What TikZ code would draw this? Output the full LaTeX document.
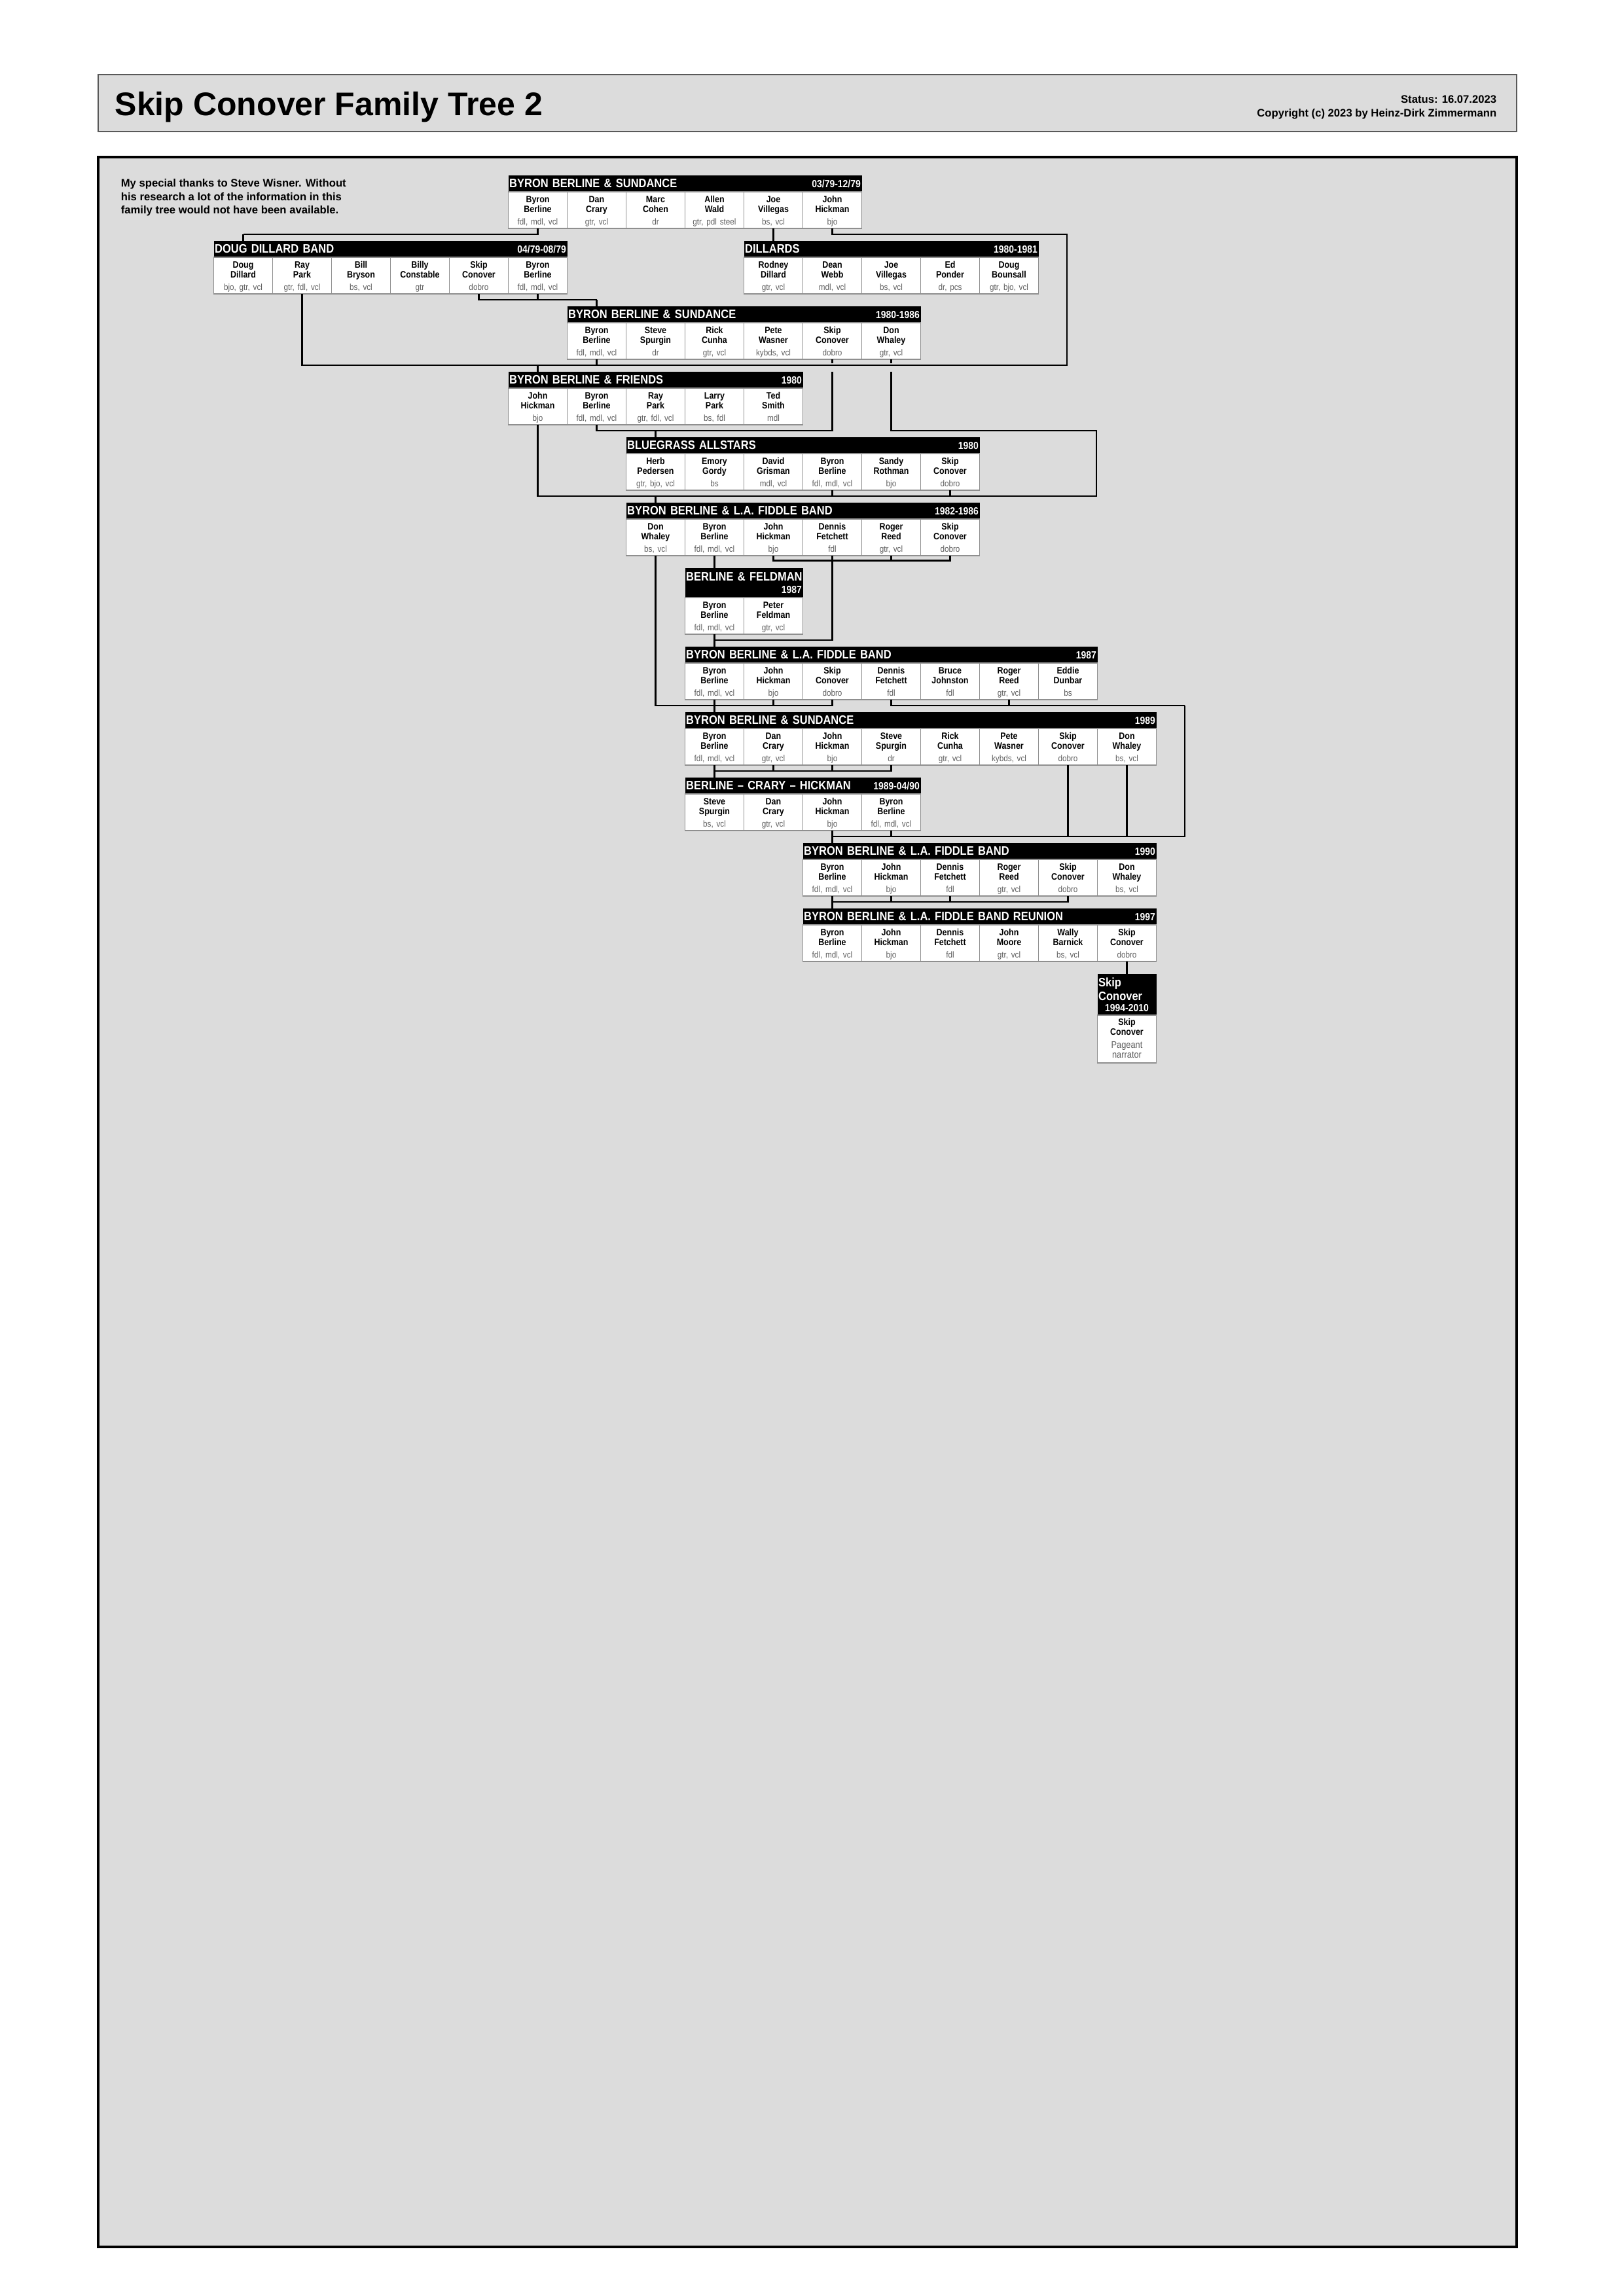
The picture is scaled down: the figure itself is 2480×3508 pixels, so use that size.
\documentclass[tikz,border=0pt]{standalone}
\usepackage{fontspec}
\setmainfont{Liberation Sans}
\newfontfamily\narrowsf[FakeStretch=0.88]{Liberation Sans}
\setlength{\parindent}{0pt}
\definecolor{panel}{HTML}{DCDCDC}
\definecolor{instr}{HTML}{5F5F5F}
\definecolor{cellline}{HTML}{8F8F8F}
\newcommand{\insfont}{\mdseries\color{instr}\fontsize{3.2pt}{4.6pt}\selectfont}
\newcommand{\yearsfont}{\fontsize{3.8pt}{4.6pt}\selectfont}
\newcommand{\cellbody}[3]{#1\\#2\par{\insfont #3\par}}
% #1 header options, #2 name, #3 first column, #4 top, #5 cells, #6 title, #7 years, #8 members
\newcommand{\band}[8][]{%
  \pgfmathsetlengthmacro{\bandw}{#5*21.6pt}%
  \pgfmathsetlengthmacro{\bandtw}{#5*21.6pt-0.8pt}%
  \node[bandhead, minimum width=\bandw, text width=\bandtw, #1] (#2) at ({326.5+90*#3},#4) {#6\hfill{\yearsfont #7}};
  \foreach \fname/\lname/\plays [count=\i from 0] in {#8}
    \node[cell] (#2-\i) at ([xshift=\i*21.6pt]#2.south west) {\cellbody{\fname}{\lname}{\plays}};
}

\begin{document}
\begin{tikzpicture}[x=0.24pt, y=-0.24pt,
    bandhead/.style={fill=black, text=white, anchor=north west, minimum height=6pt, inner xsep=0.4pt, inner ysep=0pt, outer sep=0pt, align=left, font=\narrowsf\bfseries\fontsize{4.5pt}{4.6pt}\selectfont},
    cell/.style={draw=cellline, line width=0.35pt, fill=white, anchor=north west, minimum width=21.6pt, minimum height=13.44pt, text width=21.6pt, text height=3.85pt, text depth=9.59pt, inner sep=0pt, outer sep=0pt, align=center, font=\narrowsf\bfseries\fontsize{3.4pt}{3.6pt}\selectfont},
    link/.style={line width=0.7pt},
    smallbold/.style={inner sep=0pt, font=\bfseries\fontsize{4pt}{4.85pt}\selectfont}]
  \useasboundingbox (0,0) rectangle (2480,3508);

  % frames
  \draw[fill=panel, draw=black!65, line width=0.5pt] (150,114) rectangle (2317,201);
  \draw[fill=panel, line width=0.75pt] (150,240) rectangle (2317,3433);
  \node[anchor=base west, inner sep=0pt, font=\bfseries\fontsize{12pt}{14pt}\selectfont] (title) at (175,177) {Skip Conover Family Tree 2};
  \node[smallbold, anchor=base east] (status) at (2287,158) {Status: 16.07.2023};
  \node[smallbold, anchor=base east] (copyright) at (2287,179) {Copyright (c) 2023 by Heinz-Dirk Zimmermann};
  \node[smallbold, anchor=north west, align=left] (thanks) at (184,273) {My special thanks to Steve Wisner. Without\\his research a lot of the information in this\\family tree would not have been available.};

  % bands
  \band{bbsA}{5}{268}{6}{BYRON BERLINE \& SUNDANCE}{03/79-12/79}{Byron/Berline/{fdl, mdl, vcl}, Dan/Crary/{gtr, vcl}, Marc/Cohen/dr, Allen/Wald/{gtr, pdl steel}, Joe/Villegas/{bs, vcl}, John/Hickman/bjo}
  \band{ddb}{0}{368}{6}{DOUG DILLARD BAND}{04/79-08/79}{Doug/Dillard/{bjo, gtr, vcl}, Ray/Park/{gtr, fdl, vcl}, Bill/Bryson/{bs, vcl}, Billy/Constable/gtr, Skip/Conover/dobro, Byron/Berline/{fdl, mdl, vcl}}
  \band{dil}{9}{368}{5}{DILLARDS}{1980-1981}{Rodney/Dillard/{gtr, vcl}, Dean/Webb/{mdl, vcl}, Joe/Villegas/{bs, vcl}, Ed/Ponder/{dr, pcs}, Doug/Bounsall/{gtr, bjo, vcl}}
  \band{bbsB}{6}{468}{6}{BYRON BERLINE \& SUNDANCE}{1980-1986}{Byron/Berline/{fdl, mdl, vcl}, Steve/Spurgin/dr, Rick/Cunha/{gtr, vcl}, Pete/Wasner/{kybds, vcl}, Skip/Conover/dobro, Don/Whaley/{gtr, vcl}}
  \band{bbf}{5}{568}{5}{BYRON BERLINE \& FRIENDS}{1980}{John/Hickman/bjo, Byron/Berline/{fdl, mdl, vcl}, Ray/Park/{gtr, fdl, vcl}, Larry/Park/{bs, fdl}, Ted/Smith/mdl}
  \band{bga}{7}{668}{6}{BLUEGRASS ALLSTARS}{1980}{Herb/Pedersen/{gtr, bjo, vcl}, Emory/Gordy/bs, David/Grisman/{mdl, vcl}, Byron/Berline/{fdl, mdl, vcl}, Sandy/Rothman/bjo, Skip/Conover/dobro}
  \band{lafA}{7}{768}{6}{BYRON BERLINE \& L.A. FIDDLE BAND}{1982-1986}{Don/Whaley/{bs, vcl}, Byron/Berline/{fdl, mdl, vcl}, John/Hickman/bjo, Dennis/Fetchett/fdl, Roger/Reed/{gtr, vcl}, Skip/Conover/dobro}
  \band[minimum height=10.8pt]{bf}{8}{868}{2}{\mbox{BERLINE \& FELDMAN}\\}{\hspace*{\fill}1987}{Byron/Berline/{fdl, mdl, vcl}, Peter/Feldman/{gtr, vcl}}
  \band{lafB}{8}{988}{7}{BYRON BERLINE \& L.A. FIDDLE BAND}{1987}{Byron/Berline/{fdl, mdl, vcl}, John/Hickman/bjo, Skip/Conover/dobro, Dennis/Fetchett/fdl, Bruce/Johnston/fdl, Roger/Reed/{gtr, vcl}, Eddie/Dunbar/bs}
  \band{bbsC}{8}{1088}{8}{BYRON BERLINE \& SUNDANCE}{1989}{Byron/Berline/{fdl, mdl, vcl}, Dan/Crary/{gtr, vcl}, John/Hickman/bjo, Steve/Spurgin/dr, Rick/Cunha/{gtr, vcl}, Pete/Wasner/{kybds, vcl}, Skip/Conover/dobro, Don/Whaley/{bs, vcl}}
  \band{bch}{8}{1188}{4}{BERLINE \textendash{} CRARY \textendash{} HICKMAN}{1989-04/90}{Steve/Spurgin/{bs, vcl}, Dan/Crary/{gtr, vcl}, John/Hickman/bjo, Byron/Berline/{fdl, mdl, vcl}}
  \band{lafC}{10}{1288}{6}{BYRON BERLINE \& L.A. FIDDLE BAND}{1990}{Byron/Berline/{fdl, mdl, vcl}, John/Hickman/bjo, Dennis/Fetchett/fdl, Roger/Reed/{gtr, vcl}, Skip/Conover/dobro, Don/Whaley/{bs, vcl}}
  \band{reun}{10}{1388}{6}{BYRON BERLINE \& L.A. FIDDLE BAND REUNION}{1997}{Byron/Berline/{fdl, mdl, vcl}, John/Hickman/bjo, Dennis/Fetchett/fdl, John/Moore/{gtr, vcl}, Wally/Barnick/{bs, vcl}, Skip/Conover/dobro}
  \node[bandhead, minimum width=21.6pt, text width=20.8pt, minimum height=15.1pt] (skip) at (1676.5,1488) {Skip\\[0.6pt]Conover\\[-0.6pt]{\yearsfont\hspace*{\fill}1994-2010\hspace*{\fill}}};
  \node[cell, minimum height=17.5pt, text height=3.85pt, text depth=13.65pt] (skip-0) at (skip.south west) {Skip\\Conover\par{\insfont\fontsize{3.5pt}{4.6pt}\selectfont Pageant\\[-0.8pt]narrator\par}};

  % inlets and buses
  \foreach \t in {ddb,dil,bbsB,bbf,bga,lafA,bf,lafB,bbsC,bch,lafC,reun,skip}{
    \coordinate (in\t) at (\t-0 |- \t.north);
    \coordinate (bus\t) at ([yshift=2.4pt]in\t);
    \draw[link] (bus\t) -- (in\t);
  }
  \coordinate (hickR) at (1630,358);
  \coordinate (whalR) at (1675,658);
  \coordinate (reedR) at (1810,1078);
  \coordinate (joinA) at ([yshift=-1.9pt]lafA-3.south);

  \draw[link] (bbsA-0.south) |- (busddb);
  \draw[link] (bbsA-4.south) |- (busdil);
  \draw[link] (bbsA-5.south) |- (hickR) |- (busbbf);
  \foreach \m in {4,5} \draw[link] (ddb-\m.south) |- (busbbsB);
  \draw[link] (ddb-1.south) |- (busbbf);
  \draw[link] (bbsB-0.south) |- (busbbf);
  % Skip and Whaley jump the bus
  \foreach \m in {4,5} \draw[link] (bbsB-\m.south) -- ++(0,6);
  \draw[link] (bbsB-4 |- bbf.north) |- (busbga);
  \draw[link] (bbf-1.south) |- (busbga);
  \draw[link] (bbsB-5 |- bbf.north) |- (whalR) |- (buslafA);
  \draw[link] (bbf-0.south) |- (buslafA);
  \foreach \m in {3,5} \draw[link] (bga-\m.south) |- (buslafA);
  \draw[link] (lafA-1.south) |- (busbf);
  \foreach \m in {2,4,5} \draw[link] (lafA-\m.south) |- (joinA);
  \draw[link] (lafA-3.south) |- (buslafB);
  \draw[link] (bf-0.south) |- (buslafB);
  \draw[link] (lafA-0.south) |- (busbbsC);
  \foreach \m in {0,1,2} \draw[link] (lafB-\m.south) |- (busbbsC);
  \foreach \m in {3,5} \draw[link] (lafB-\m.south) |- (reedR);
  \draw[link] (reedR) |- (buslafC);
  \foreach \m in {0,...,3} \draw[link] (bbsC-\m.south) |- (busbch);
  \foreach \m in {2,3} \draw[link] (bch-\m.south) |- (buslafC);
  \foreach \m in {6,7} \draw[link] (bbsC-\m.south) |- (buslafC);
  \foreach \m in {0,1,2,4} \draw[link] (lafC-\m.south) |- (busreun);
  \draw[link] (reun-5.south) |- (busskip);
\end{tikzpicture}
\end{document}
